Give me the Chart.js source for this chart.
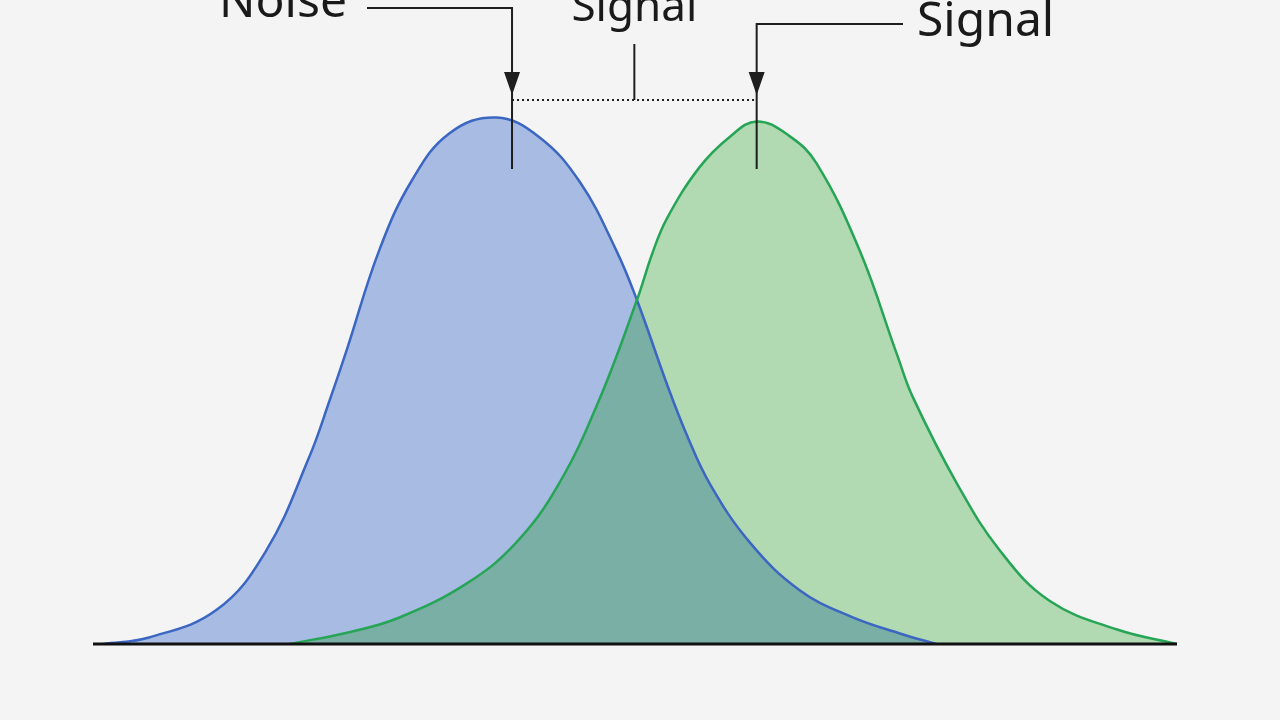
<!DOCTYPE html>
<html>
<head>
<meta charset="utf-8">
<script src="https://cdn.jsdelivr.net/npm/chart.js@4/dist/chart.umd.min.js"></script>
<style>
  html, body { margin: 0; padding: 0; background: #f4f4f4; }
  #wrap { width: 1280px; height: 720px; position: relative; }
</style>
</head>
<body>
<div id="wrap"><canvas id="dist"></canvas></div>
<script>
// x in units of the noise spread, y as density
const noiseX = [-3.02, -2.67, -2.15, -1.77, -1.44, -1.28, -1.15, -0.90, -0.65, -0.36, 0, 0.33, 0.64, 0.92, 1.08, 1.31, 1.46, 1.64, 1.95, 2.33, 2.72, 3.10, 3.38];
const noiseY = [0, 0.005, 0.026, 0.071, 0.142, 0.186, 0.224, 0.300, 0.353, 0.389, 0.401, 0.386, 0.352, 0.300, 0.262, 0.198, 0.160, 0.122, 0.077, 0.041, 0.021, 0.008, 0];

const signalX = [-1.59, -1.13, -0.75, -0.23, 0.15, 0.48, 0.79, 1.08, 1.20, 1.31, 1.56, 1.79, 2.00, 2.25, 2.46, 2.79, 3.08, 3.20, 3.54, 3.87, 4.25, 4.77, 5.23];
const signalY = [0, 0.009, 0.020, 0.046, 0.077, 0.122, 0.186, 0.262, 0.298, 0.324, 0.363, 0.386, 0.398, 0.387, 0.366, 0.300, 0.220, 0.188, 0.122, 0.071, 0.033, 0.011, 0];

// where the two markers sit on the x axis
const markerX = [0.12, 2.0];
const labels = ['Noise', 'Signal', 'Signal'];

const xMin = -3.1, xMax = 5.23;
const yMin = 0, yMax = 0.46;

function toPoints(xs, ys) {
    return xs.map((x, i) => ({ x: x, y: ys[i] }));
}

const bgPlugin = {
    id: 'bg',
    beforeDraw(chart) {
        const ctx = chart.ctx;
        ctx.save();
        ctx.fillStyle = '#f4f4f4';
        ctx.fillRect(0, 0, chart.width, chart.height);
        ctx.restore();
    }
};

const annotPlugin = {
    id: 'annot',
    afterDraw(chart) {
        const ctx = chart.ctx;
        const xs = chart.scales.x;
        const area = chart.chartArea;
        const xa = xs.getPixelForValue(markerX[0]);
        const xb = xs.getPixelForValue(markerX[1]);
        const xm = (xa + xb) / 2;
        const tipY = 95;

        ctx.save();
        // baseline
        ctx.strokeStyle = '#111';
        ctx.lineWidth = 3;
        ctx.beginPath();
        ctx.moveTo(area.left, area.bottom);
        ctx.lineTo(area.right, area.bottom);
        ctx.stroke();

        ctx.strokeStyle = '#1e1e1e';
        ctx.fillStyle = '#1e1e1e';
        ctx.lineWidth = 2;

        // noise leader
        ctx.beginPath();
        ctx.moveTo(367, 8);
        ctx.lineTo(xa, 8);
        ctx.lineTo(xa, 169);
        ctx.stroke();
        // signal leader
        ctx.beginPath();
        ctx.moveTo(903, 24);
        ctx.lineTo(xb, 24);
        ctx.lineTo(xb, 169);
        ctx.stroke();

        // arrow heads
        [xa, xb].forEach(px => {
            ctx.beginPath();
            ctx.moveTo(px, tipY);
            ctx.lineTo(px - 8, tipY - 23);
            ctx.lineTo(px + 8, tipY - 23);
            ctx.closePath();
            ctx.fill();
        });

        // dotted separation line
        ctx.setLineDash([2, 3]);
        ctx.beginPath();
        ctx.moveTo(xa, 100);
        ctx.lineTo(xb, 100);
        ctx.stroke();
        ctx.setLineDash([]);

        // middle leader
        ctx.beginPath();
        ctx.moveTo(xm, 44);
        ctx.lineTo(xm, 100);
        ctx.stroke();

        // labels
        ctx.fillStyle = '#1a1a1a';
        ctx.textBaseline = 'alphabetic';
        ctx.textAlign = 'left';
        ctx.font = '48px "Noto Sans", sans-serif';
        ctx.fillText(labels[0], 219, 17);
        ctx.font = '44px "Noto Sans", sans-serif';
        ctx.textAlign = 'center';
        ctx.fillText(labels[1], xm, 21);
        ctx.font = '48px "Noto Sans", sans-serif';
        ctx.textAlign = 'left';
        ctx.fillText(labels[2], 917, 36);
        ctx.restore();
    }
};

// first dataset is painted last, so signal goes on top of noise
new Chart(document.getElementById('dist'), {
    type: 'line',
    data: {
        datasets: [{
            label: 'Signal',
            data: toPoints(signalX, signalY),
            borderColor: '#27a556',
            backgroundColor: 'rgba(0, 145, 2, 0.273)',
            borderWidth: 2.5,
            fill: 'origin',
            pointRadius: 0,
            tension: 0.4
        }, {
            label: 'Noise',
            data: toPoints(noiseX, noiseY),
            borderColor: '#3b67c2',
            backgroundColor: '#a7bbe3',
            borderWidth: 2.5,
            fill: 'origin',
            pointRadius: 0,
            tension: 0.4
        }]
    },
    options: {
        responsive: true,
        maintainAspectRatio: false,
        animation: false,
        layout: { padding: { left: 93, right: 103, top: 40, bottom: 76 } },
        plugins: {
            legend: { display: false },
            tooltip: { enabled: false },
            filler: { drawTime: 'beforeDatasetsDraw' }
        },
        scales: {
            x: { type: 'linear', min: xMin, max: xMax, display: false },
            y: { min: yMin, max: yMax, display: false }
        }
    },
    plugins: [bgPlugin, annotPlugin]
});
</script>
</body>
</html>
